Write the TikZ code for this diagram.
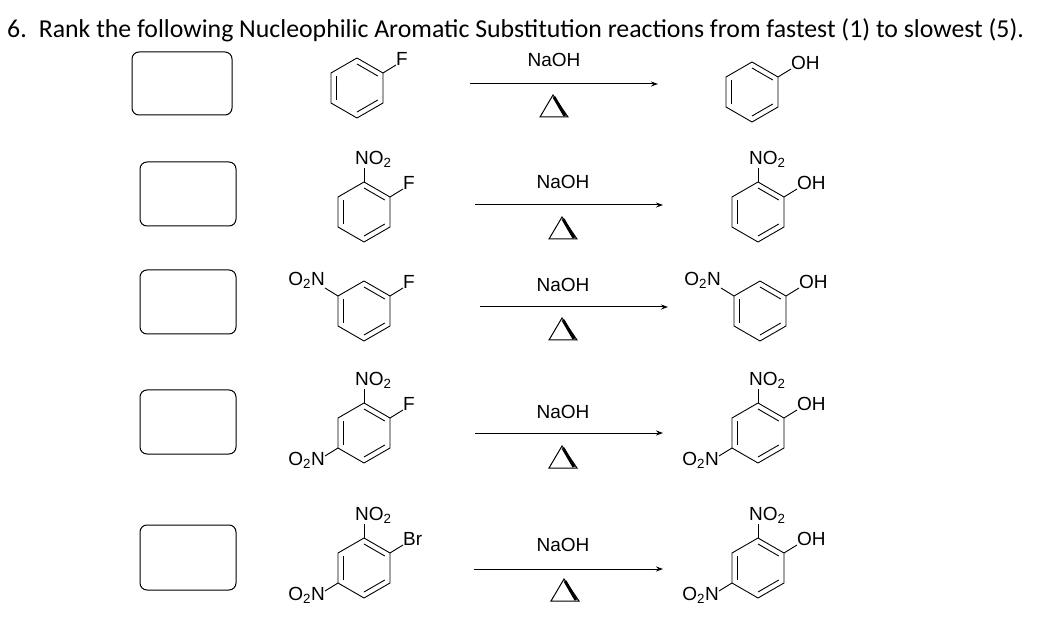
\documentclass[tikz,border=0pt]{standalone}
\usepackage{fontspec}
\setmainfont{Liberation Sans}
\newfontfamily\titlefont{Carlito}
\usetikzlibrary{calc,arrows.meta}
\tikzset{
  bond/.style={line width=0.9pt},
  lbl/.style={inner sep=1pt,font=\fontsize{19}{19}\selectfont},
  rxn/.style={line width=1pt,-{Stealth[length=7pt,width=5pt]}},
  ansbox/.style={draw,line width=1pt,rounded corners=7pt}
}
\newcommand\benz[3]{% cx cy prefix
  \coordinate (#3c) at (#1,#2);
  \coordinate (#3t) at (#1,#2-30);
  \coordinate (#3rt) at (#1+26,#2-15);
  \coordinate (#3rb) at (#1+26,#2+15);
  \coordinate (#3b) at (#1,#2+30);
  \coordinate (#3lb) at (#1-26,#2+15);
  \coordinate (#3lt) at (#1-26,#2-15);
  \draw[bond,line join=round] (#3t)--(#3rt)--(#3rb)--(#3b)--(#3lb)--(#3lt)--cycle;
  \draw[bond] ($(#3c)!0.8!(#3lt)$)--($(#3c)!0.8!(#3lb)$);
  \draw[bond] ($(#3c)!0.8!(#3t)$)--($(#3c)!0.8!(#3rt)$);
  \draw[bond] ($(#3c)!0.8!(#3rb)$)--($(#3c)!0.8!(#3b)$);
}
\newcommand\delt[2]{%
  \draw[line width=1pt,line join=miter] (#1-14,#2+11)--(#1-1,#2-11)--(#1+14,#2+11)--cycle;
  \draw[line width=3pt] (#1,#2-9)--(#1+11,#2+10);
}
\newcommand\NOt{NO\textsubscript{2}}
\newcommand\OtN{O\textsubscript{2}N}
\begin{document}
\begin{tikzpicture}[x=1pt,y=-1pt]
\useasboundingbox (0,0) rectangle (1050,644);
\node[anchor=base west,inner sep=0,font=\titlefont\fontsize{25.8}{26}\selectfont] (title) at (7,38) {6.\hspace{12pt}Rank the following Nucleophilic Aromatic Substitution reactions from fastest (1) to slowest (5).};
% answer boxes
\draw[ansbox] (132,52) rectangle (232,115);
\draw[ansbox] (140,162) rectangle (236,226);
\draw[ansbox] (140,270) rectangle (236,334);
\draw[ansbox] (140,390) rectangle (236,454);
\draw[ansbox] (140,525) rectangle (236,590);
% row 1
\benz{357}{88}{a}
\draw[bond] (art)--++(13,-8) coordinate (aF);
\node[lbl,anchor=south west] (aFl) at ($(aF)+(-1,2)$) {F};
\benz{752}{92}{A}
\draw[bond] (Art)--++(13,-8) coordinate (AO);
\node[lbl,anchor=south west] (AOl) at ($(AO)+(-1,2)$) {OH};
\coordinate (r1s) at (470,84); \coordinate (r1e) at (658,84);
\draw[rxn] (r1s)--(r1e);
\node[lbl] (n1) at (554,60) {NaOH};
\delt{554}{106}
% row 2
\benz{364}{212}{b}
\draw[bond] (bt)--++(0,-14) coordinate (bN);
\node[lbl,anchor=south west] (bNl) at ($(bN)+(-10,1)$) {\NOt};
\draw[bond] (brt)--++(13,-8) coordinate (bF);
\node[lbl,anchor=south west] (bFl) at ($(bF)+(-1,2)$) {F};
\benz{758}{212}{B}
\draw[bond] (Bt)--++(0,-14) coordinate (BN);
\node[lbl,anchor=south west] (BNl) at ($(BN)+(-10,1)$) {\NOt};
\draw[bond] (Brt)--++(13,-8) coordinate (BO);
\node[lbl,anchor=south west] (BOl) at ($(BO)+(-1,2)$) {OH};
\coordinate (r2s) at (475,205); \coordinate (r2e) at (663,205);
\draw[rxn] (r2s)--(r2e);
\node[lbl] (n2) at (563,182) {NaOH};
\delt{563}{228}
% row 3
\benz{364}{311}{c}
\draw[bond] (clt)--++(-13,-8) coordinate (cN);
\node[lbl,anchor=south east] (cNl) at ($(cN)+(1,2)$) {\OtN};
\draw[bond] (crt)--++(13,-8) coordinate (cF);
\node[lbl,anchor=south west] (cFl) at ($(cF)+(-1,2)$) {F};
\benz{760}{311}{C}
\draw[bond] (Clt)--++(-13,-8) coordinate (CN);
\node[lbl,anchor=south east] (CNl) at ($(CN)+(1,2)$) {\OtN};
\draw[bond] (Crt)--++(13,-8) coordinate (CO);
\node[lbl,anchor=south west] (COl) at ($(CO)+(-1,2)$) {OH};
\coordinate (r3s) at (480,307); \coordinate (r3e) at (668,307);
\draw[rxn] (r3s)--(r3e);
\node[lbl] (n3) at (563,285) {NaOH};
\delt{563}{329}
% row 4
\benz{364}{433}{d}
\draw[bond] (dt)--++(0,-14) coordinate (dN);
\node[lbl,anchor=south west] (dNl) at ($(dN)+(-10,1)$) {\NOt};
\draw[bond] (drt)--++(13,-8) coordinate (dF);
\node[lbl,anchor=south west] (dFl) at ($(dF)+(-1,2)$) {F};
\draw[bond] (dlb)--++(-13,8) coordinate (dM);
\node[lbl,anchor=north east] (dMl) at ($(dM)+(1,-5)$) {\OtN};
\benz{758}{433}{D}
\draw[bond] (Dt)--++(0,-14) coordinate (DN);
\node[lbl,anchor=south west] (DNl) at ($(DN)+(-10,1)$) {\NOt};
\draw[bond] (Drt)--++(13,-8) coordinate (DO);
\node[lbl,anchor=south west] (DOl) at ($(DO)+(-1,2)$) {OH};
\draw[bond] (Dlb)--++(-13,8) coordinate (DM);
\node[lbl,anchor=north east] (DMl) at ($(DM)+(1,-5)$) {\OtN};
\coordinate (r4s) at (475,433); \coordinate (r4e) at (663,433);
\draw[rxn] (r4s)--(r4e);
\node[lbl] (n4) at (563,412) {NaOH};
\delt{563}{457}
% row 5
\benz{364}{568}{e}
\draw[bond] (et)--++(0,-14) coordinate (eN);
\node[lbl,anchor=south west] (eNl) at ($(eN)+(-10,1)$) {\NOt};
\draw[bond] (ert)--++(13,-8) coordinate (eF);
\node[lbl,anchor=south west] (eFl) at ($(eF)+(-1,2)$) {Br};
\draw[bond] (elb)--++(-13,8) coordinate (eM);
\node[lbl,anchor=north east] (eMl) at ($(eM)+(1,-5)$) {\OtN};
\benz{758}{568}{E}
\draw[bond] (Et)--++(0,-14) coordinate (EN);
\node[lbl,anchor=south west] (ENl) at ($(EN)+(-10,1)$) {\NOt};
\draw[bond] (Ert)--++(13,-8) coordinate (EO);
\node[lbl,anchor=south west] (EOl) at ($(EO)+(-1,2)$) {OH};
\draw[bond] (Elb)--++(-13,8) coordinate (EM);
\node[lbl,anchor=north east] (EMl) at ($(EM)+(1,-5)$) {\OtN};
\coordinate (r5s) at (474,569); \coordinate (r5e) at (663,569);
\draw[rxn] (r5s)--(r5e);
\node[lbl] (n5) at (563,545) {NaOH};
\delt{565}{590}
\end{tikzpicture}
\end{document}
